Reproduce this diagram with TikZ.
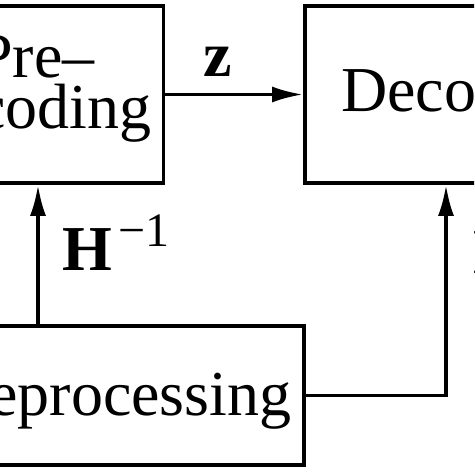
\documentclass[tikz,border=0pt]{standalone}
\usepackage{fontspec}
\setmainfont{Liberation Serif}
\usetikzlibrary{arrows.meta}

\begin{document}
\begin{tikzpicture}[x=0.5pt,y=-0.5pt]
	\tikzstyle{block}=[rectangle,draw=black,line width=1.9pt,font=\fontsize{32pt}{25.5pt}\selectfont]
	\tikzstyle{edge}=[draw,line width=1.7pt,-{Latex[length=15.5pt,width=8pt]}]
	\tikzstyle{lbl}=[inner sep=0pt,font=\fontsize{32pt}{32pt}\selectfont]
	\useasboundingbox (0,0) rectangle (474,474);
	\clip (0,0) rectangle (474,474);
	\begin{scope}
		\node [block,minimum width=99.25pt,minimum height=88.5pt,align=left,text depth=12pt] (pre) at (64.25,94.5) {Pre–\\coding};
		\node [block,minimum width=160.5pt,minimum height=88.5pt,text height=24.5pt,text depth=7pt] (dec) at (465.5,94.5) {Decoding};
		\node [block,minimum width=192pt,minimum height=69.5pt,text height=26.5pt,text depth=7pt] (prep) at (112,395.5) {Preprocessing};
		\coordinate (hx) at ([xshift=-13.125pt]pre.south);
		\coordinate (ix) at ([xshift=-9.75pt]dec.south);
		\path[edge] (pre) edge node[lbl,pos=0.38,above=8pt] {\textbf{z}} (dec);
		\draw[edge] (prep.north -| hx) -- node[lbl,anchor=base west,pos=0.386,xshift=11.5pt] {\textbf{H}\hspace{3pt}\raisebox{12pt}{\fontsize{24pt}{24pt}\selectfont −1}} (hx);
		\draw[edge] (prep.east) -| node[lbl,anchor=base west,pos=0.79,xshift=12.5pt] {\textbf{I}} (ix);
	\end{scope}
\end{tikzpicture}
\end{document}
